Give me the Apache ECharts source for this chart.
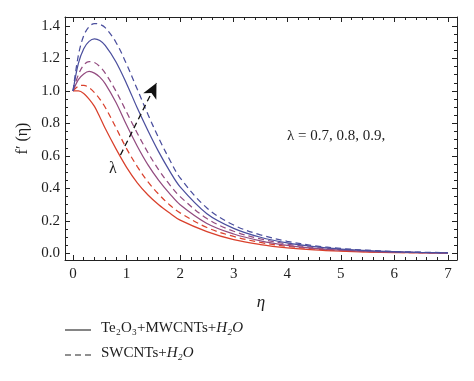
<!DOCTYPE html>
<html>
<head>
<meta charset="utf-8">
<script src="https://cdn.jsdelivr.net/npm/echarts@6/dist/echarts.min.js"></script>
<style>
html,body{margin:0;padding:0;background:#fff;}
#c{width:474px;height:381px;}
</style>
</head>
<body>
<div id="c"></div>
<script>
// ---- data ----
const etas = [0,0.1,0.2,0.3,0.4,0.5,0.6,0.8,1.0,1.2,1.4,1.6,1.8,2.0,2.5,3,3.5,4,4.5,5,5.5,6,6.5,7];
const mwcnt07 = [1.0,1.0,0.985,0.95,0.905,0.84,0.77,0.645,0.53,0.435,0.36,0.3,0.25,0.205,0.135,0.085,0.055,0.035,0.022,0.014,0.009,0.006,0.004,0.003];
const swcnt07 = [1.0,1.03,1.035,1.02,0.99,0.95,0.9,0.775,0.645,0.535,0.44,0.365,0.3,0.25,0.16,0.105,0.068,0.044,0.028,0.018,0.011,0.007,0.005,0.003];
const mwcnt08 = [1.0,1.07,1.105,1.12,1.11,1.085,1.045,0.93,0.79,0.66,0.545,0.45,0.37,0.3,0.185,0.12,0.078,0.05,0.032,0.02,0.013,0.008,0.005,0.003];
const swcnt08 = [1.0,1.1,1.16,1.18,1.175,1.15,1.11,1.0,0.87,0.74,0.62,0.515,0.425,0.35,0.215,0.137,0.09,0.058,0.037,0.024,0.015,0.009,0.006,0.004];
const mwcnt09 = [1.0,1.17,1.26,1.305,1.32,1.31,1.28,1.18,1.045,0.895,0.755,0.625,0.51,0.41,0.245,0.155,0.1,0.065,0.042,0.027,0.017,0.011,0.007,0.004];
const swcnt09 = [1.0,1.22,1.34,1.395,1.415,1.41,1.39,1.3,1.165,1.01,0.855,0.71,0.58,0.465,0.28,0.175,0.115,0.075,0.048,0.031,0.02,0.012,0.008,0.005];
const xTicks = [0,1,2,3,4,5,6,7];
const yTicks = [0,0.2,0.4,0.6,0.8,1.0,1.2,1.4];
const legendNames = ['Te₂O₃+MWCNTs+H₂O', 'SWCNTs+H₂O'];
const lambdaText = 'λ = 0.7, 0.8, 0.9,';
const arrowFrom = [0.886, 0.606];
const arrowTo = [1.558, 1.049];

const colors = {r:'#d9402c', p:'#934c80', b:'#4b4f9e'};
const FONT = '"Liberation Serif", "DejaVu Serif", serif';
const TXT = '#1e1e1e';
const AX = '#222';

// frame (data window)
const W = 474, H = 381;
const gL = 65, gR = 17, gT = 17, gB = 121;
const xMin = -0.15, xMax = 7.17, yMin = -0.04, yMax = 1.455;
const pxX = (W - gL - gR) / (xMax - xMin);
const pxY = (H - gT - gB) / (yMax - yMin);
// tick grids aligned with the data window
const xT0 = xTicks[0], xT1 = xTicks[xTicks.length-1];
const yT0 = yTicks[0], yT1 = yTicks[yTicks.length-1];
const tgX = {left: gL + (xT0 - xMin)*pxX, right: gR + (xMax - xT1)*pxX, top: gT, bottom: gB};
const tgY = {left: gL, right: gR, top: gT + (yMax - yT1)*pxY, bottom: gB + (yT0 - yMin)*pxY};

function pairs(v){ return etas.map((e,i)=>[e, v[i]]); }
function curve(name, vals, color, dashed){
  return {
    type:'line', name:name, data:pairs(vals), xAxisIndex:0, yAxisIndex:0,
    showSymbol:false, symbol:'none', smooth:0.35, silent:true,
    lineStyle:{color:color, width:1.25, type: dashed ? [6,4] : 'solid'},
    itemStyle:{color:color}, z:3
  };
}
const hidden = (grid, min, max) => ({type:'value', gridIndex:grid, min:min, max:max, show:false});
function frameX(pos, labels){
  return {type:'value', gridIndex:0, position:pos, min:xMin, max:xMax,
    axisLine:{show:true, onZero:false, lineStyle:{color:AX, width:1}},
    axisTick:{show:false},
    axisLabel:{show:labels, customValues:xTicks, margin:7, fontFamily:FONT, fontSize:15, color:TXT},
    splitLine:{show:false}};
}
function frameY(pos, labels){
  return {type:'value', gridIndex:0, position:pos, min:yMin, max:yMax,
    axisLine:{show:true, onZero:false, lineStyle:{color:AX, width:1}},
    axisTick:{show:false},
    axisLabel:{show:labels, customValues:yTicks, margin:5, fontFamily:FONT, fontSize:15, color:TXT,
      formatter:(v)=>v.toFixed(1)},
    splitLine:{show:false}};
}
function tickX(pos){
  return {type:'value', gridIndex:1, position:pos, min:xT0, max:xT1, interval:1,
    axisLine:{show:false}, axisLabel:{show:false}, splitLine:{show:false},
    axisTick:{show:true, inside:true, length:5, lineStyle:{color:AX, width:1}},
    minorTick:{show:true, splitNumber:5, length:3, lineStyle:{color:AX, width:1}}};
}
function tickY(pos){
  return {type:'value', gridIndex:2, position:pos, min:yT0, max:yT1, interval:0.2,
    axisLine:{show:false}, axisLabel:{show:false}, splitLine:{show:false},
    axisTick:{show:true, inside:true, length:5, lineStyle:{color:AX, width:1}},
    minorTick:{show:true, splitNumber:4, length:3, lineStyle:{color:AX, width:1}}};
}

const xAxes = [frameX('bottom',true), frameX('top',false), tickX('bottom'), tickX('top'), hidden(2,0,1)];
xAxes[0].name = 'η';
xAxes[0].nameLocation = 'middle';
xAxes[0].nameGap = 34;
xAxes[0].nameTextStyle = {fontFamily:FONT, fontSize:17, fontStyle:'italic', color:TXT};
const yAxes = [frameY('left',true), frameY('right',false), hidden(1,0,1), tickY('left'), tickY('right')];
yAxes[0].name = "f′ (η)";
yAxes[0].nameLocation = 'middle';
yAxes[0].nameGap = 25;
yAxes[0].nameRotate = 90;
yAxes[0].nameTextStyle = {fontFamily:FONT, fontSize:16, color:TXT};

const series = [
  curve('r07', mwcnt07, colors.r, false),
  curve('r07d', swcnt07, colors.r, true),
  curve('p08', mwcnt08, colors.p, false),
  curve('p08d', swcnt08, colors.p, true),
  curve('b09', mwcnt09, colors.b, false),
  curve('b09d', swcnt09, colors.b, true),
  {type:'line', name:'arrow', data:[], xAxisIndex:0, yAxisIndex:0, symbol:'none', silent:true,
   markLine:{silent:true, symbol:['none','arrow'], symbolSize:[11,15], animation:false,
     lineStyle:{color:'#111', width:1.3, type:[6,4]}, itemStyle:{color:'#111'},
     label:{show:false},
     data:[[{coord:arrowFrom},{coord:arrowTo}]]}}
];

const richStyle = {
  n:{fontFamily:FONT, fontSize:15, fill:TXT, color:TXT},
  i:{fontFamily:FONT, fontSize:15, fontStyle:'italic', fill:TXT, color:TXT}
};

const chart = echarts.init(document.getElementById('c'), null, {renderer:'canvas'});
chart.setOption({
  animation:false,
  backgroundColor:'#fff',
  grid:[
    {left:gL, right:gR, top:gT, bottom:gB, containLabel:false},
    Object.assign({containLabel:false}, tgX),
    Object.assign({containLabel:false}, tgY)
  ],
  xAxis:xAxes,
  yAxis:yAxes.map((a,i)=>{
    if (i===2) a.gridIndex = 1;
    return a;
  }),
  graphic:[
    {type:'text', left:287, top:129, style:{text:lambdaText, font:'15px '+FONT, fill:TXT}},
    {type:'text', left:109, top:161, style:{text:'λ', font:'16px '+FONT, fill:TXT}},
    {type:'line', shape:{x1:65, y1:330, x2:91, y2:330}, style:{stroke:'#222', lineWidth:1.1}},
    {type:'line', shape:{x1:65, y1:355, x2:91, y2:355}, style:{stroke:'#222', lineWidth:1.1, lineDash:[6,4]}},
    {type:'text', left:101, top:321, style:{text:'{n|Te₂O₃+MWCNTs+}{i|H₂O}', rich:richStyle}},
    {type:'text', left:101, top:346, style:{text:'{n|SWCNTs+}{i|H₂O}', rich:richStyle}}
  ],
  series:series
});
</script>
</body>
</html>
